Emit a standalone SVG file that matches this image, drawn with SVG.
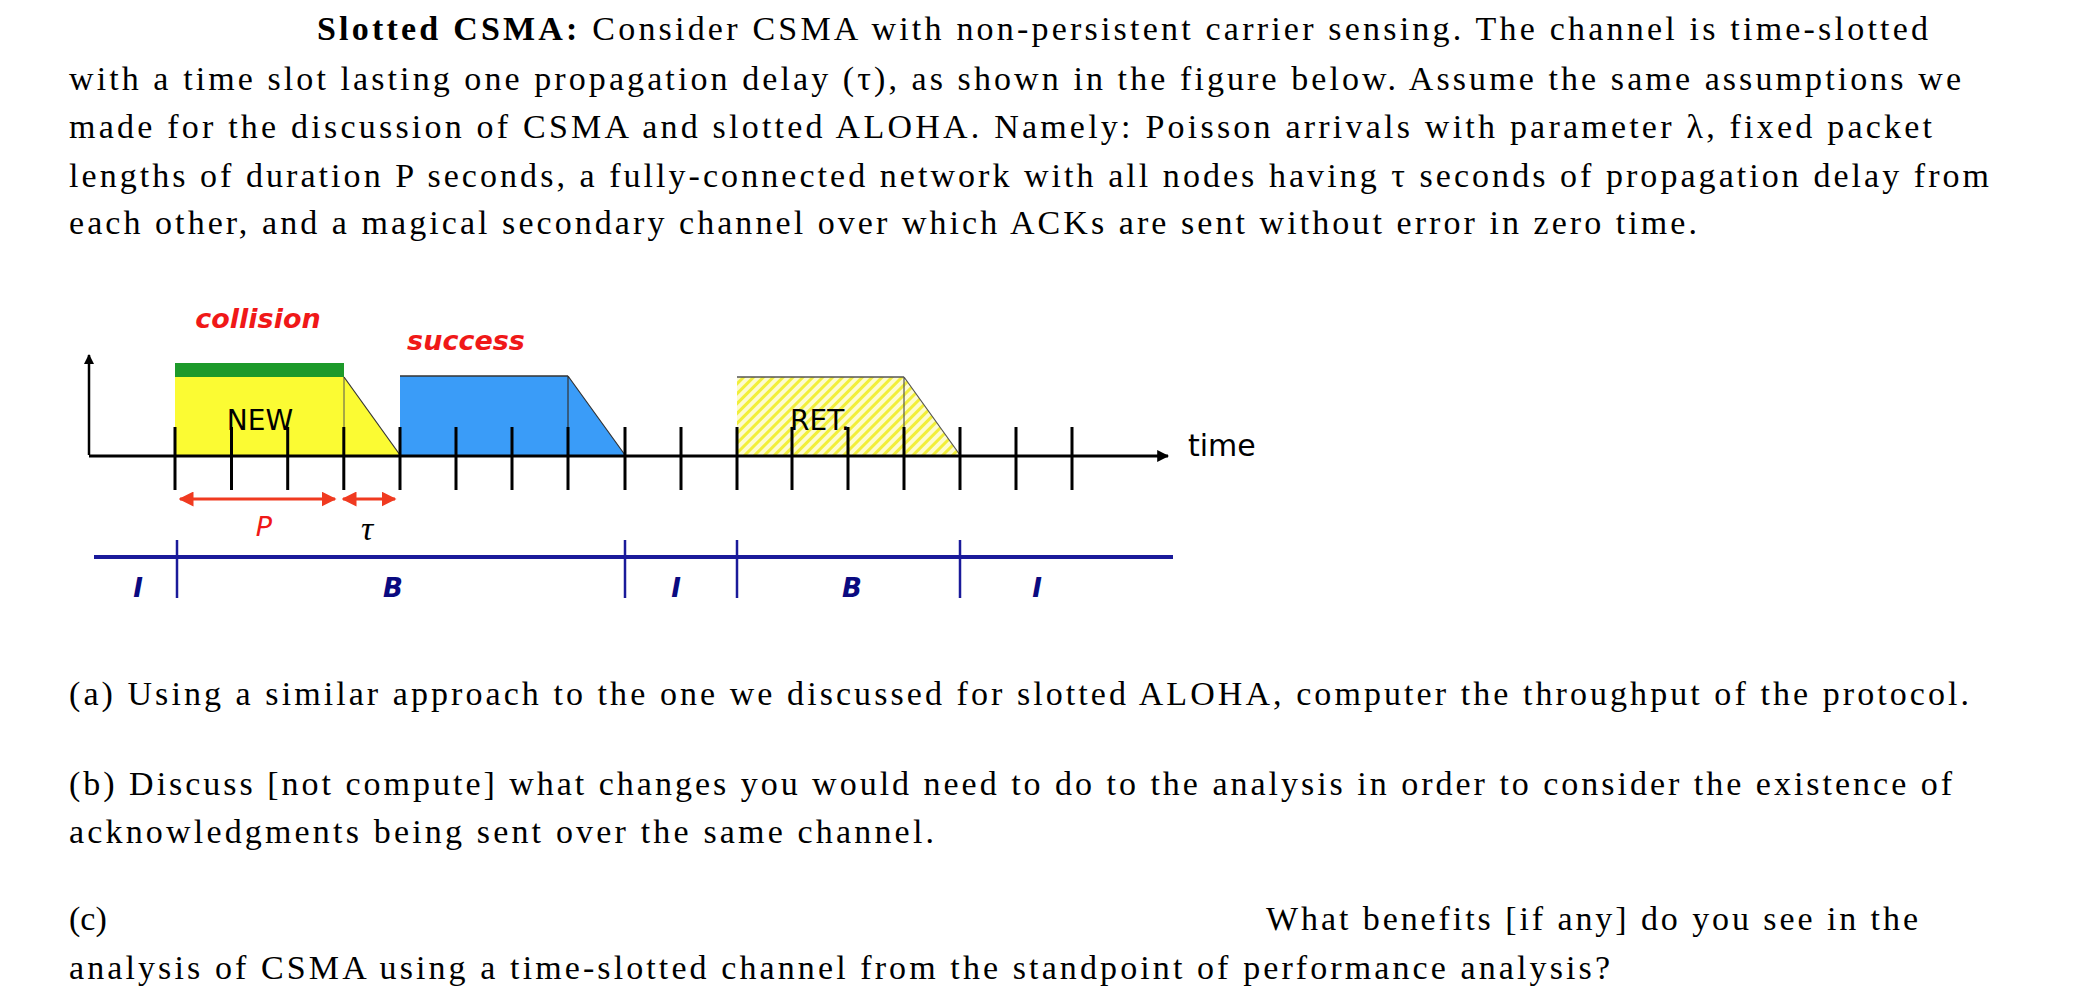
<svg xmlns="http://www.w3.org/2000/svg" width="2074" height="1004" viewBox="0 0 2074 1004">
<style>
.t{font-family:"Liberation Serif",serif;font-size:34px;fill:#000}
.s{font-family:"DejaVu Sans","Liberation Sans",sans-serif}
.lbl{font-family:"DejaVu Sans",sans-serif;font-weight:bold;font-style:italic;font-size:26px;fill:#0a0a80}
.tk{stroke:#000;stroke-width:3}
.bv{stroke:#1a1a9a;stroke-width:2.5}
</style>
<defs>
<pattern id="hatch" width="7" height="7" patternUnits="userSpaceOnUse" patternTransform="rotate(45)">
<rect width="7" height="7" fill="#fdfbd0"/>
<rect width="3" height="7" fill="#f2ef3a"/>
</pattern>
<marker id="ra" viewBox="0 0 10 10" refX="9" refY="5" markerWidth="5" markerHeight="5" orient="auto-start-reverse"><path d="M0,0L10,5L0,10z" fill="#f03a20"/></marker>
<marker id="ka" viewBox="0 0 10 10" refX="9" refY="5" markerWidth="4" markerHeight="4" orient="auto"><path d="M0,0L10,5L0,10z" fill="#000"/></marker>
</defs>
<g id="text">
<text class="t" x="317" y="40" textLength="1611"><tspan font-weight="bold">Slotted CSMA:</tspan> Consider CSMA with non-persistent carrier sensing. The channel is time-slotted</text>
<text class="t" x="69" y="90" textLength="1892">with a time slot lasting one propagation delay (τ), as shown in the figure below. Assume the same assumptions we</text>
<text class="t" x="69" y="138" textLength="1863">made for the discussion of CSMA and slotted ALOHA. Namely: Poisson arrivals with parameter λ, fixed packet</text>
<text class="t" x="69" y="187" textLength="1920">lengths of duration P seconds, a fully-connected network with all nodes having τ seconds of propagation delay from</text>
<text class="t" x="69" y="234" textLength="1628">each other, and a magical secondary channel over which ACKs are sent without error in zero time.</text>
<text class="t" x="69" y="705" textLength="1900">(a) Using a similar approach to the one we discussed for slotted ALOHA, computer the throughput of the protocol.</text>
<text class="t" x="69" y="795" textLength="1883">(b) Discuss [not compute] what changes you would need to do to the analysis in order to consider the existence of</text>
<text class="t" x="69" y="843" textLength="865">acknowledgments being sent over the same channel.</text>
<text class="t" x="69" y="930">(c)</text>
<text class="t" x="1266" y="930" textLength="652">What benefits [if any] do you see in the</text>
<text class="t" x="69" y="979" textLength="1541">analysis of CSMA using a time-slotted channel from the standpoint of performance analysis?</text>
</g>
<g id="new-packet">
<rect x="175" y="363" width="169" height="14" fill="#1d9a2a"/>
<path d="M175,377H344L400,455H175Z" fill="#fbfb33"/>
<line x1="344" y1="377" x2="344" y2="455" stroke="#555" stroke-width="1"/>
<path d="M344,377L400,455" stroke="#333" stroke-width="1.2" fill="none"/>
<text class="s" x="260" y="430" font-size="28" text-anchor="middle">NEW</text>
</g>
<g id="success-packet">
<path d="M400,376H568L625,455H400Z" fill="#3a9cf8"/>
<line x1="400" y1="376" x2="568" y2="376" stroke="#333" stroke-width="1.5"/>
<path d="M568,376V455M568,376L625,455" stroke="#333" stroke-width="1.2" fill="none"/>
</g>
<g id="ret-packet">
<path d="M737,377H904L960,455H737Z" fill="url(#hatch)"/>
<line x1="737" y1="377" x2="904" y2="377" stroke="#555" stroke-width="1.5"/>
<path d="M904,377V455M904,377L960,455" stroke="#555" stroke-width="1.2" fill="none"/>
<text class="s" x="820" y="430" font-size="28" text-anchor="middle">RET.</text>
</g>
<g id="labels">
<text x="258" y="328" font-family="DejaVu Sans,sans-serif" font-weight="bold" font-style="italic" font-size="27" fill="#f01818" text-anchor="middle">collision</text>
<text x="466" y="350" font-family="DejaVu Sans,sans-serif" font-weight="bold" font-style="italic" font-size="27" fill="#f01818" text-anchor="middle">success</text>
<text class="s" x="1188" y="456" font-size="30">time</text>
<text x="264" y="536" font-family="DejaVu Sans,sans-serif" font-style="italic" font-size="27" fill="#f01818" text-anchor="middle">P</text>
<text x="367" y="540" font-family="Liberation Serif,serif" font-style="italic" font-size="34" text-anchor="middle">τ</text>
<text class="lbl" x="138" y="597" text-anchor="middle">I</text>
<text class="lbl" x="393" y="597" text-anchor="middle">B</text>
<text class="lbl" x="676" y="597" text-anchor="middle">I</text>
<text class="lbl" x="852" y="597" text-anchor="middle">B</text>
<text class="lbl" x="1037" y="597" text-anchor="middle">I</text>
</g>
<g id="connectors">
<line x1="89" y1="455" x2="89" y2="355" stroke="#000" stroke-width="2.5" marker-end="url(#ka)"/>
<line x1="89" y1="456" x2="1168" y2="456" stroke="#000" stroke-width="3" marker-end="url(#ka)"/>
<g class="tk">
<line x1="175" y1="427" x2="175" y2="490"/><line x1="231.5" y1="427" x2="231.5" y2="490"/>
<line x1="287.7" y1="427" x2="287.7" y2="490"/><line x1="343.8" y1="427" x2="343.8" y2="490"/>
<line x1="400" y1="427" x2="400" y2="490"/><line x1="456" y1="427" x2="456" y2="490"/>
<line x1="512" y1="427" x2="512" y2="490"/><line x1="568" y1="427" x2="568" y2="490"/>
<line x1="625" y1="427" x2="625" y2="490"/><line x1="681" y1="427" x2="681" y2="490"/>
<line x1="737" y1="427" x2="737" y2="490"/><line x1="792" y1="427" x2="792" y2="490"/>
<line x1="848" y1="427" x2="848" y2="490"/><line x1="904" y1="427" x2="904" y2="490"/>
<line x1="960" y1="427" x2="960" y2="490"/><line x1="1016" y1="427" x2="1016" y2="490"/>
<line x1="1072" y1="427" x2="1072" y2="490"/>
</g>
<line x1="180" y1="499" x2="335" y2="499" stroke="#f03a20" stroke-width="3" marker-start="url(#ra)" marker-end="url(#ra)"/>
<line x1="343" y1="499" x2="395" y2="499" stroke="#f03a20" stroke-width="3" marker-start="url(#ra)" marker-end="url(#ra)"/>
<line x1="94" y1="557" x2="1173" y2="557" stroke="#1a1a9a" stroke-width="4"/>
<g class="bv">
<line x1="177" y1="540" x2="177" y2="598"/><line x1="625" y1="540" x2="625" y2="598"/>
<line x1="737" y1="540" x2="737" y2="598"/><line x1="960" y1="540" x2="960" y2="598"/>
</g>
</g>
</svg>
